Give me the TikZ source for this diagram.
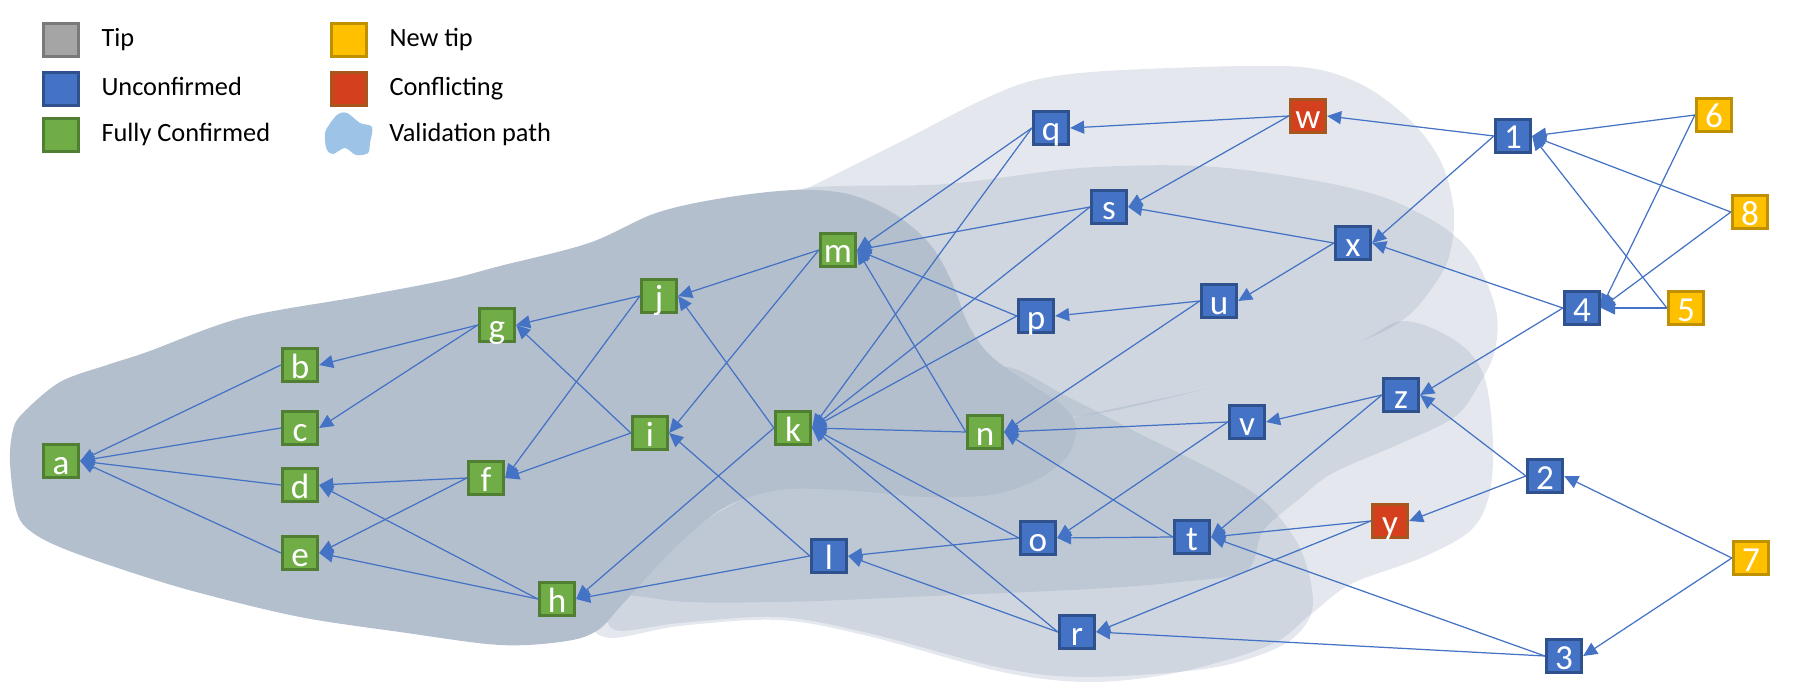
\documentclass[tikz,border=0pt]{standalone}
\usepackage{fontspec}
\setmainfont{Carlito}
\usetikzlibrary{arrows.meta, positioning}
\definecolor{colorTip}{HTML}{A5A5A5}
\definecolor{borderTip}{HTML}{7A7A7A}
\definecolor{colorUnconf}{HTML}{4472C4}
\definecolor{borderUnconf}{HTML}{2F528F}
\definecolor{colorConf}{HTML}{70AD47}
\definecolor{borderConf}{HTML}{507E32}
\definecolor{colorNew}{HTML}{FFC000}
\definecolor{borderNew}{HTML}{BF9000}
\definecolor{colorConflict}{HTML}{D4401E}
\definecolor{borderConflict}{HTML}{A9561E}
\definecolor{colorPath}{HTML}{9DC3E6}
\definecolor{colorShade}{HTML}{8497B0}
\definecolor{colorCore}{HTML}{B4BFCE}
\definecolor{colorEdge}{HTML}{4472C4}

\begin{document}
\begin{tikzpicture}[x=0.02cm, y=-0.02cm,
        tx/.style={draw, line width=1.6pt, minimum width=0.71cm, minimum height=0.66cm, inner sep=0pt,
            text height=0.55cm, text depth=0.03cm, text=white, font=\fontsize{20}{24}\selectfont},
        tipbox/.style={tx, fill=colorTip, draw=borderTip},
        unc/.style={tx, fill=colorUnconf, draw=borderUnconf},
        conf/.style={tx, fill=colorConf, draw=borderConf},
        newt/.style={tx, fill=colorNew, draw=borderNew},
        confl/.style={tx, fill=colorConflict, draw=borderConflict},
        lbl/.style={inner sep=0pt, text height=0.37cm, text depth=0.1cm, font=\fontsize{15}{18}\selectfont},
        shade/.style={fill=colorShade, fill opacity=0.22},
        rel/.style={-{Triangle[length=2.8mm, width=2.6mm]}, colorEdge, line width=0.7pt}
    ]
        \useasboundingbox (0,0) rectangle (1799,693);
        % validation paths
        \fill[shade] plot[smooth cycle, tension=0.55] coordinates {(770,205) (812,186) (902,141) (982,100) (1035,80) (1105,71) (1246,66) (1316,69) (1368,88) (1414,124) (1442,164) (1454,212) (1449,257) (1432,288) (1404,319) (1351,345) (1220,385) (1081,416) (990,410) (900,330) (840,240)};
        \fill[shade] plot[smooth cycle, tension=0.55] coordinates {(1081,416) (1220,385) (1351,345) (1403,321) (1456,341) (1484,376) (1493,442) (1489,496) (1470,531) (1421,558) (1351,584) (1310,615) (1270,645) (1180,672) (1091,682) (1002,672) (868,636) (779,620) (680,626) (610,638) (590,620) (620,590) (720,495) (900,470) (1000,440)};
        \fill[shade] plot[smooth cycle, tension=0.55] coordinates {(795,190) (946,184) (1080,168) (1200,166) (1300,178) (1380,196) (1440,225) (1474,257) (1496,310) (1495,350) (1481,381) (1456,416) (1404,442) (1333,473) (1298,500) (1263,531) (1246,571) (1180,582) (1091,589) (957,595) (779,602) (658,599) (620,570) (700,400) (760,230)};
        \fill[shade] plot[smooth cycle, tension=0.55] coordinates {(1000,367) (1070,398) (1140,434) (1211,469) (1263,500) (1298,544) (1312,589) (1309,619) (1281,646) (1211,668) (1088,677) (1002,668) (868,633) (779,617) (680,623) (615,630) (610,600) (650,555) (800,470) (960,420)};
        \fill[colorCore] plot[smooth cycle, tension=0.55] coordinates {(723,198) (795,190) (848,194) (893,213) (929,243) (951,280) (969,326) (991,356) (1027,382) (1062,405) (1076,427) (1067,457) (1036,480) (991,495) (924,497) (857,491) (790,489) (746,498) (714,514) (679,544) (647,577) (620,607) (598,630) (567,641) (500,645) (400,632) (300,617) (200,593) (133,573) (67,550) (33,533) (17,513) (10,463) (13,430) (23,413) (60,382) (107,365) (147,352) (241,318) (357,297) (446,280) (500,266) (589,243) (656,213)};
        % legend
        \node[tipbox] (lgTip) at (61,40) {};
        \node[unc] (lgUnc) at (61,89) {};
        \node[conf] (lgConf) at (61,135) {};
        \node[newt] (lgNew) at (349,40) {};
        \node[confl] (lgConfl) at (349,89) {};
        \fill[colorPath] plot[smooth cycle, tension=0.55] coordinates {(326,130) (337,115) (347,113) (360,123) (372,127) (370,143) (368,153) (356,155) (345,148) (333,154) (327,150) (325,140)};
        \coordinate (lgPath) at (370,135);
        \node[lbl, right=0.42cm of lgTip] (lgTipTxt) {Tip};
        \node[lbl, right=0.42cm of lgUnc] (lgUncTxt) {Unconfirmed};
        \node[lbl, right=0.42cm of lgConf] (lgConfTxt) {Fully Confirmed};
        \node[lbl, right=0.42cm of lgNew] (lgNewTxt) {New tip};
        \node[lbl, right=0.42cm of lgConfl] (lgConflTxt) {Conflicting};
        \node[lbl, right=0.38cm of lgPath] (lgPathTxt) {Validation path};
        % transactions
        \node[conf] (a) at (61,461) {a};
        \node[conf] (b) at (300,365) {b};
        \node[conf] (c) at (300,428) {c};
        \node[conf] (d) at (300,485) {d};
        \node[conf] (e) at (300,553) {e};
        \node[conf] (f) at (486,478) {f};
        \node[conf] (g) at (497,325) {g};
        \node[conf] (h) at (557,599) {h};
        \node[conf] (i) at (650,433) {i};
        \node[conf] (j) at (659,296) {j};
        \node[conf] (k) at (793,428) {k};
        \node[unc] (l) at (829,556) {l};
        \node[conf] (m) at (838,250) {m};
        \node[conf] (n) at (985,432) {n};
        \node[unc] (o) at (1038,538) {o};
        \node[unc] (p) at (1036,316) {p};
        \node[unc] (q) at (1051,128) {q};
        \node[unc] (r) at (1077,632) {r};
        \node[unc] (s) at (1109,207) {s};
        \node[unc] (t) at (1192,537) {t};
        \node[unc] (u) at (1219,301) {u};
        \node[unc] (v) at (1247,422) {v};
        \node[confl] (w) at (1308,116) {w};
        \node[unc] (x) at (1353,243) {x};
        \node[confl] (y) at (1390,521) {y};
        \node[unc] (z) at (1401,395) {z};
        \node[unc] (num1) at (1513,136) {1};
        \node[unc] (num2) at (1545,476) {2};
        \node[unc] (num3) at (1564,656) {3};
        \node[unc] (num4) at (1582,308) {4};
        \node[newt] (num5) at (1686,308) {5};
        \node[newt] (num6) at (1714,115) {6};
        \node[newt] (num7) at (1751,558) {7};
        \node[newt] (num8) at (1750,212) {8};
        % approvals
        \draw[rel] (b.west)--(a.east); \draw[rel] (c.west)--(a.east); \draw[rel] (d.west)--(a.east); \draw[rel] (e.west)--(a.east);
        \draw[rel] (g.west)--(b.east); \draw[rel] (g.west)--(c.east);
        \draw[rel] (f.west)--(d.east); \draw[rel] (h.west)--(d.east); \draw[rel] (f.west)--(e.east); \draw[rel] (h.west)--(e.east);
        \draw[rel] (j.west)--(f.east); \draw[rel] (i.west)--(f.east);
        \draw[rel] (j.west)--(g.east); \draw[rel] (i.west)--(g.east);
        \draw[rel] (k.west)--(h.east); \draw[rel] (l.west)--(h.east);
        \draw[rel] (m.west)--(i.east); \draw[rel] (l.west)--(i.east);
        \draw[rel] (m.west)--(j.east); \draw[rel] (k.west)--(j.east);
        \draw[rel] (q.west)--(k.east); \draw[rel] (s.west)--(k.east); \draw[rel] (p.west)--(k.east);
        \draw[rel] (n.west)--(k.east); \draw[rel] (o.west)--(k.east); \draw[rel] (r.west)--(k.east);
        \draw[rel] (o.west)--(l.east); \draw[rel] (r.west)--(l.east);
        \draw[rel] (q.west)--(m.east); \draw[rel] (s.west)--(m.east); \draw[rel] (p.west)--(m.east); \draw[rel] (n.west)--(m.east);
        \draw[rel] (u.west)--(n.east); \draw[rel] (v.west)--(n.east); \draw[rel] (t.west)--(n.east);
        \draw[rel] (v.west)--(o.east); \draw[rel] (t.west)--(o.east);
        \draw[rel] (u.west)--(p.east);
        \draw[rel] (w.west)--(q.east);
        \draw[rel] (num3.west)--(r.east); \draw[rel] (y.west)--(r.east);
        \draw[rel] (w.west)--(s.east); \draw[rel] (x.west)--(s.east);
        \draw[rel] (z.west)--(t.east); \draw[rel] (y.west)--(t.east); \draw[rel] (num3.west)--(t.east);
        \draw[rel] (x.west)--(u.east);
        \draw[rel] (z.west)--(v.east);
        \draw[rel] (num1.west)--(w.east);
        \draw[rel] (num1.west)--(x.east); \draw[rel] (num4.west)--(x.east);
        \draw[rel] (num2.west)--(y.east);
        \draw[rel] (num4.west)--(z.east); \draw[rel] (num2.west)--(z.east);
        \draw[rel] (num6.west)--(num1.east); \draw[rel] (num8.west)--(num1.east); \draw[rel] (num5.west)--(num1.east);
        \draw[rel] (num7.west)--(num2.east); \draw[rel] (num7.west)--(num3.east);
        \draw[rel] (num6.west)--(num4.east); \draw[rel] (num8.west)--(num4.east); \draw[rel] (num5.west)--(num4.east);
    \end{tikzpicture}
\end{document}
